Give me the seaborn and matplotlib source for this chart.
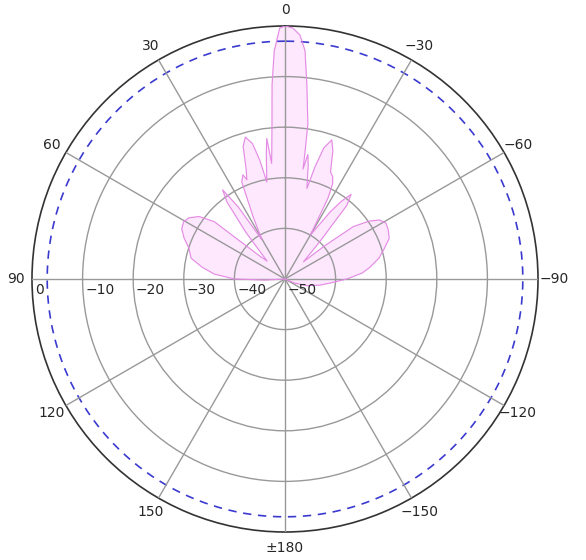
import numpy as np
import pandas as pd
import seaborn as sns
import matplotlib.pyplot as plt

# antenna pattern: angle in degrees (counter-clockwise from top), level in dB
angle_deg = [-180, -120, -113, -107, -100, -95, -90, -85.6, -82, -77.5, -73, -68.7, -64.5, -61,
             -58, -55.5, -52.5, -50, -47, -43, -40, -38, -36, -34, -30, -28, -26.6, -25, -23,
             -20.5, -18.6, -16.5, -15, -13.6, -11.5, -10.4, -9.3, -9.0, -8.4, -6.4, -5.0, -3.5,
             -1.8, 0, 1.2, 2.7, 3.8, 4.8, 6.0, 6.6, 7.4, 8.5, 10.6, 12, 13.5, 15.6, 17.5, 19.5,
             21, 22, 24, 27, 30.5, 33, 35, 37, 40, 45, 48, 51, 54, 57.5, 60.5, 64, 68, 72, 77.5,
             82, 86, 90, 93, 96, 180]
level_db = [-50, -50, -48, -45.5, -43, -41, -37.8, -34.7, -33, -31, -29.5, -27.9, -27.4, -27.2,
            -28, -29.8, -33, -40, -45, -40, -31, -28.8, -31, -34, -40, -32, -29, -27.7, -27,
            -23, -21, -23, -27, -31.6, -27, -25, -28, -25, -19.1, -11.3, -4.7, -1.7,
            -0.4, 0, -0.4, -4.9, -11.5, -19.3, -25, -27, -22, -25, -30.5, -26, -22.5, -20.9, -22.5, -27,
            -29, -27.8, -29, -36, -41, -33, -28.5, -31, -38, -45, -43, -32, -29, -27.5, -27, -27.3, -28.5, -30, -31,
            -33.5, -36, -40, -46, -50, -50]

angle_ticks = [0, 30, 60, 90, 120, 150, 180, 210, 240, 270, 300, 330]
angle_labels = ["0", "30", "60", "90", "120", "150", "\u00b1180", "\u2212150", "\u2212120",
                "\u221290", "\u221260", "\u221230"]
ring_values = [-40, -30, -20, -10]
ring_labels = [0, -10, -20, -30, -40, -50]
half_power_db = -3
r_min, r_max = -50, 0

df = pd.DataFrame({"theta": np.deg2rad(angle_deg), "db": level_db})

sns.set_style("white")
plt.rcParams["font.family"] = ["DejaVu Sans"]

fig = plt.figure(figsize=(5.86, 5.6), dpi=100)
ax = fig.add_axes([0.0546, 0.05, 0.8635, 0.9036], projection="polar")
ax.set_theta_zero_location("N")
ax.set_theta_direction(1)
ax.set_ylim(r_min, r_max)
ax.set_axisbelow(False)

# grid
ax.set_xticks(np.deg2rad(angle_ticks))
ax.set_xticklabels(angle_labels, fontsize=10)
ax.set_yticks(ring_values)
ax.set_yticklabels([])
ax.grid(True, color="#999999", linewidth=1.0)
ax.spines["polar"].set_color("#333333")
ax.spines["polar"].set_linewidth(1.2)
ax.tick_params(axis="x", pad=1)

# -3 dB reference circle
circle_theta = np.linspace(0, 2 * np.pi, 361)
ax.plot(circle_theta, [half_power_db] * len(circle_theta), color="#3a3ad0",
        linestyle=(0, (5, 4)), linewidth=1.2, zorder=2)

# pattern
ax.fill(df["theta"], df["db"], color="#fde8fd", zorder=1)
sns.lineplot(data=df, x="theta", y="db", ax=ax, sort=False, estimator=None,
             color="#e48ae4", linewidth=0.8, zorder=3)
ax.set_xlabel("")
ax.set_ylabel("")

# ring labels along the left horizontal
for val in ring_labels:
    txt = str(val).replace("-", "\u2212")
    ax.annotate(txt, xy=(np.pi / 2, val), xytext=(2, -3), textcoords="offset points",
                ha="left", va="top", fontsize=10, zorder=5)

plt.savefig("out.png", dpi=100)
plt.close()
